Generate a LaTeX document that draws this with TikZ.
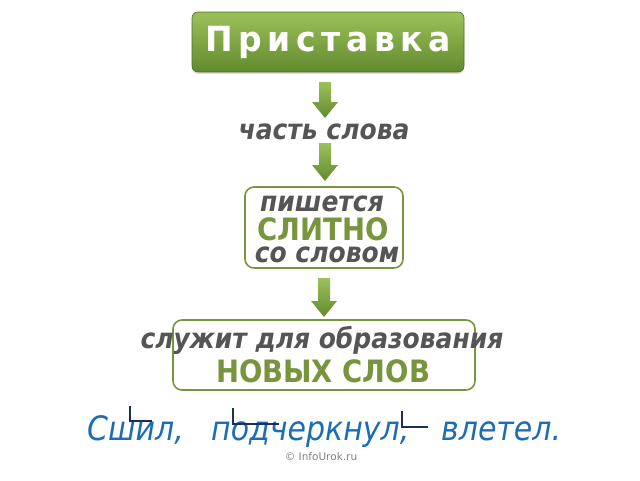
\documentclass[tikz,border=0pt]{standalone}
\usepackage{fontspec}
\usepackage{graphicx}
\setmainfont{DejaVu Sans}
\newfontfamily\spaced[LetterSpace=17]{DejaVu Sans}
\usetikzlibrary{shadows}
\definecolor{grn}{HTML}{78953D}
\definecolor{grnlight}{HTML}{9CC15B}
\definecolor{grndark}{HTML}{628A2E}
\definecolor{txtgrey}{HTML}{555555}
\definecolor{blu}{HTML}{1C6DB4}
\definecolor{navy}{HTML}{1E2C5E}
\newcommand{\tallt}[1]{\scalebox{1}[1.12]{#1}}
\tikzset{
  titlebox/.style={rounded corners=6pt, top color=grnlight, bottom color=grndark, draw=grndark!80!black, line width=0.6pt, minimum width=272pt, minimum height=60pt, text=white, font=\spaced\bfseries\fontsize{33}{33}\selectfont, drop shadow={opacity=0.25, shadow xshift=0pt, shadow yshift=-2pt}},
  framebox/.style={rounded corners=9pt, draw=grn, line width=1.6pt, fill=white},
  greytxt/.style={text=txtgrey, font=\bfseries\itshape\fontsize{25}{25}\selectfont, inner sep=0pt},
  greentxt/.style={text=grn, font=\bfseries\fontsize{27.5}{27.5}\selectfont, inner sep=0pt},
  downarrow/.style={top color=grnlight, bottom color=grndark, draw=none},
  rootmark/.style={draw=navy, line width=2.2pt},
  example/.style={text=blu, font=\itshape\fontsize{30}{30}\selectfont, inner sep=0pt, anchor=base west},
}
\begin{document}
\begin{tikzpicture}[x=1pt, y=-1pt]
\useasboundingbox (0,0) rectangle (640,480);
% title
\node[titlebox] (title) at (328,42) {\scalebox{1}[1.05]{Приставка}};
% arrow 1
\path[downarrow] (319,82) -- (331,82) -- (331,102) -- (338,102) -- (325,118) -- (312,102) -- (319,102) -- cycle;
\node[greytxt] (part) at (324,132) {\tallt{часть слова}};
% arrow 2
\path[downarrow] (319,143) -- (331,143) -- (331,165) -- (338,165) -- (325,181) -- (312,165) -- (319,165) -- cycle;
% box 2
\draw[framebox] (245,187) rectangle (403,268);
\node[greytxt] (writes) at (322,204) {\tallt{пишется}};
\node[greentxt] (together) at (323,229.5) {\tallt{СЛИТНО}};
\node[greytxt] (withword) at (327,255) {\tallt{со словом}};
% arrow 3
\path[downarrow] (318,278) -- (330,278) -- (330,301) -- (337,301) -- (324,317) -- (311,301) -- (318,301) -- cycle;
% box 3
\draw[framebox] (173,320) rectangle (475,390);
\node[greytxt] (serves) at (322,340) {\tallt{служит для образования}};
\node[greentxt] (newwords) at (323,371) {\tallt{НОВЫХ СЛОВ}};
% example sentence
\node[example] (w1) at (87,440) {\tallt{Сшил,}};
\node[example] (w2) at (211,440) {\tallt{подчеркнул,}};
\node[example] (w3) at (441,440) {\tallt{влетел.}};
\draw[rootmark] (130,406) -- (130,421) -- (152,421);
\draw[rootmark] (233,408) -- (233,424) -- (279,424);
\draw[rootmark] (402,411) -- (402,427) -- (428,427);
\node[text=gray, font=\fontsize{10.5}{10.5}\selectfont, inner sep=0pt] (copy) at (321,457) {© InfoUrok.ru};
\end{tikzpicture}
\end{document}
